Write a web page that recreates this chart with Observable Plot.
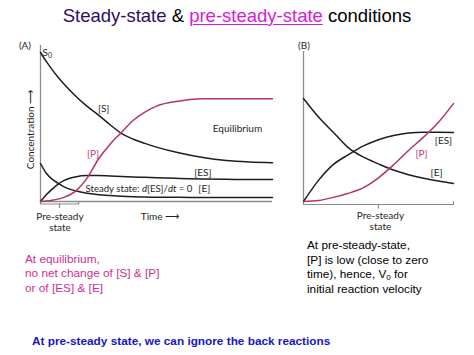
<!DOCTYPE html>
<html>
<head>
<meta charset="utf-8">
<script src="https://cdn.jsdelivr.net/npm/d3@7"></script>
<script src="https://cdn.jsdelivr.net/npm/@observablehq/plot@0.6"></script>
<style>
  html, body { margin: 0; padding: 0; background: #fff; }
  #root { position: relative; width: 474px; height: 355px; overflow: hidden; font-family: "Liberation Sans", Arial, sans-serif; }
  #root svg { position: absolute; top: 0; overflow: visible; }
  .t { position: absolute; white-space: nowrap; }
  #title { left: 0; width: 474px; top: 5px; text-align: center; font-size: 18.5px; line-height: 22px; color: #000; }
  #title .s1 { color: #2e0f62; }
  #title .s2 { color: #d81bd8; text-decoration: underline; text-decoration-thickness: 1px; text-underline-offset: 2px; }
  .note { font-size: 11.8px; line-height: 14.5px; }
  #noteL { left: 25px; top: 251.7px; color: #cf2f8f; }
  #noteR { left: 307px; top: 238.2px; color: #000; }
  #noteB { left: 32px; top: 333.7px; color: #1616c4; font-weight: bold; }
  sub { font-size: 8px; vertical-align: -2px; line-height: 0; }
</style>
</head>
<body>
<div id="root">
  <div id="title" class="t"><span class="s1">Steady-state</span> &amp; <span class="s2">pre-steady-state</span> conditions</div>
  <div id="noteL" class="t note">At equilibrium,<br>no net change of [S] &amp; [P]<br>or of [ES] &amp; [E]</div>
  <div id="noteR" class="t note">At pre-steady-state,<br>[P] is low (close to zero<br>time), hence, V<sub>0</sub> for<br>initial reaction velocity</div>
  <div id="noteB" class="t note">At pre-steady state, we can ignore the back reactions</div>
</div>
<script>
// ---------- Panel A: full time course ----------
const timeA      = [0, 0.25, 0.5, 0.75, 1, 1.5, 2, 2.5, 3, 3.5, 4, 4.5, 5, 6, 7, 8, 9, 10];
const substrateA = [1.0, 0.94, 0.885, 0.835, 0.79, 0.71, 0.64, 0.58, 0.515, 0.455, 0.418, 0.39, 0.365, 0.325, 0.295, 0.275, 0.265, 0.26];
const productA   = [0, 0.003, 0.008, 0.016, 0.028, 0.068, 0.155, 0.285, 0.385, 0.465, 0.545, 0.6, 0.64, 0.675, 0.69, 0.69, 0.69, 0.69];
const complexA   = [0, 0.045, 0.083, 0.115, 0.14, 0.165, 0.174, 0.174, 0.171, 0.168, 0.165, 0.162, 0.159, 0.155, 0.151, 0.149, 0.148, 0.148];
const enzymeA    = [0.255, 0.19, 0.15, 0.123, 0.1, 0.072, 0.055, 0.046, 0.04, 0.035, 0.032, 0.03, 0.029, 0.028, 0.027, 0.027, 0.027, 0.027];
const preSteadyEndA = 1.64;

// ---------- Panel B: pre-steady-state zoom ----------
const timeB    = [0, 0.1, 0.2, 0.3, 0.4, 0.5, 0.6, 0.7, 0.8, 0.9, 1.0];
const enzymeB  = [1.0, 0.82, 0.67, 0.52, 0.43, 0.365, 0.305, 0.26, 0.225, 0.198, 0.175];
const complexB = [0, 0.205, 0.36, 0.455, 0.54, 0.6, 0.64, 0.665, 0.672, 0.672, 0.67];
const productB = [0, 0.01, 0.04, 0.08, 0.135, 0.23, 0.355, 0.495, 0.625, 0.77, 0.95];
const preSteadyEndB = 1.0;

const INK = "#1e1e1e", AXIS = "#8c8c8c", PCOL = "#b3336f", PLAB = "#c2397c";

function rows(time, vals) { return time.map((t, i) => ({t, c: vals[i]})); }

function brace(x0, x1, pxPerUnit, depth, tip) {
  const d = depth / pxPerUnit, k = tip / pxPerUnit, m = (x0 + x1) / 2;
  return {
    line: [{t: x0, c: 0}, {t: x0, c: -d}, {t: x1, c: -d}, {t: x1, c: 0}],
    tick: [{t: m, c: -d}, {t: m, c: -k}]
  };
}

function fixText(svg, content, html) {
  svg.querySelectorAll("text").forEach(el => {
    if (el.textContent === content) el.innerHTML = html;
  });
}

const FONT = "Lato, 'Open Sans', sans-serif";
const labelFont = {fontFamily: FONT, fontSize: 10};

// Panel A
const A = {w: 290, h: 240, ml: 40, mr: 18, mt: 45, mb: 39, ymax: 1.047, xmax: 10};
const pxA = (A.h - A.mt - A.mb) / A.ymax;
const brA = brace(0, preSteadyEndA, pxA, 2.5, 6);

const plotA = Plot.plot({
  width: A.w, height: A.h,
  marginLeft: A.ml, marginRight: A.mr, marginTop: A.mt, marginBottom: A.mb,
  x: {domain: [0, A.xmax], axis: null},
  y: {domain: [0, A.ymax], axis: null},
  style: {background: "transparent", overflow: "visible", fontFamily: FONT, fontSize: "10px", color: INK},
  marks: [
    Plot.ruleX([0], {y1: 0, y2: A.ymax, stroke: AXIS, strokeWidth: 1.3}),
    Plot.ruleY([0], {x1: 0, x2: A.xmax, stroke: AXIS, strokeWidth: 1.3}),
    Plot.line(brA.line, {x: "t", y: "c", stroke: AXIS, strokeWidth: 1.2}),
    Plot.line(brA.tick, {x: "t", y: "c", stroke: AXIS, strokeWidth: 1.2}),
    Plot.line(rows(timeA, substrateA), {x: "t", y: "c", stroke: INK, strokeWidth: 1.5, curve: "monotone-x"}),
    Plot.line(rows(timeA, complexA), {x: "t", y: "c", stroke: INK, strokeWidth: 1.5, curve: "monotone-x"}),
    Plot.line(rows(timeA, enzymeA), {x: "t", y: "c", stroke: INK, strokeWidth: 1.5, curve: "monotone-x"}),
    Plot.line(rows(timeA, productA), {x: "t", y: "c", stroke: PCOL, strokeWidth: 1.5, curve: "monotone-x"}),
    Plot.text(["S0"], {x: 0.09, y: 1.0, text: d => d, textAnchor: "start", fill: INK, ...labelFont}),
    Plot.text(["(A)"], {x: -0.67, y: 1.047, text: d => d, fill: INK, ...labelFont}),
    Plot.text(["[S]"], {x: 2.72, y: 0.625, text: d => d, fill: INK, ...labelFont}),
    Plot.text(["[P]"], {x: 2.26, y: 0.322, text: d => d, fill: PLAB, ...labelFont}),
    Plot.text(["Equilibrium"], {x: 8.49, y: 0.49, text: d => d, fill: INK, ...labelFont}),
    Plot.text(["[ES]"], {x: 7.0, y: 0.195, text: d => d, fill: INK, ...labelFont}),
    Plot.text(["Steady state: d[ES]/dt = 0"], {x: 1.94, y: 0.087, text: d => d, textAnchor: "start", fill: INK, fontFamily: FONT, fontSize: 9.6}),
    Plot.text(["[E]"], {x: 7.06, y: 0.087, text: d => d, fill: INK, ...labelFont}),
    Plot.text(["Time \u27F6"], {x: 5.15, y: -0.10, text: d => d, fill: INK, ...labelFont}),
    Plot.text(["Pre-steady\nstate"], {x: 0.84, y: -0.138, text: d => d, fill: INK, lineHeight: 1.1, ...labelFont}),
    Plot.text(["Concentration \u27F6"], {x: -0.41, y: 0.483, text: d => d, rotate: -90, fill: INK, ...labelFont})
  ]
});
plotA.style.left = "0px";
fixText(plotA, "S0", 'S<tspan dy="2.5" font-size="7">0</tspan>');
fixText(plotA, "Steady state: d[ES]/dt = 0", 'Steady state: <tspan font-style="italic">d</tspan>[ES]/<tspan font-style="italic">dt</tspan> = 0');

// Panel B
const B = {w: 184, h: 240, ml: 13, mr: 21, mt: 51, mb: 39, ymax: 1.456};
const pxB = (B.h - B.mt - B.mb) / B.ymax;
const brB = brace(0, preSteadyEndB, pxB, 3, 6.5);

const plotB = Plot.plot({
  width: B.w, height: B.h,
  marginLeft: B.ml, marginRight: B.mr, marginTop: B.mt, marginBottom: B.mb,
  x: {domain: [0, preSteadyEndB], axis: null},
  y: {domain: [0, B.ymax], axis: null},
  style: {background: "transparent", overflow: "visible", fontFamily: FONT, fontSize: "10px", color: INK},
  marks: [
    Plot.ruleX([0], {y1: 0, y2: B.ymax, stroke: AXIS, strokeWidth: 1.3}),
    Plot.line(brB.line, {x: "t", y: "c", stroke: AXIS, strokeWidth: 1.2}),
    Plot.line(brB.tick, {x: "t", y: "c", stroke: AXIS, strokeWidth: 1.2}),
    Plot.line(rows(timeB, enzymeB), {x: "t", y: "c", stroke: INK, strokeWidth: 1.5, curve: "monotone-x"}),
    Plot.line(rows(timeB, complexB), {x: "t", y: "c", stroke: INK, strokeWidth: 1.5, curve: "monotone-x"}),
    Plot.line(rows(timeB, productB), {x: "t", y: "c", stroke: PCOL, strokeWidth: 1.5, curve: "monotone-x"}),
    Plot.text(["(B)"], {x: 0.003, y: 1.515, text: d => d, fill: INK, ...labelFont}),
    Plot.text(["[ES]"], {x: 0.933, y: 0.592, text: d => d, fill: INK, ...labelFont}),
    Plot.text(["[P]"], {x: 0.787, y: 0.466, text: d => d, fill: PLAB, ...labelFont}),
    Plot.text(["[E]"], {x: 0.887, y: 0.282, text: d => d, fill: INK, ...labelFont}),
    Plot.text(["Pre-steady\nstate"], {x: 0.513, y: -0.189, text: d => d, fill: INK, lineHeight: 1.1, ...labelFont})
  ]
});
plotB.style.left = "290px";

const root = document.getElementById("root");
root.appendChild(plotA);
root.appendChild(plotB);
</script>
</body>
</html>
